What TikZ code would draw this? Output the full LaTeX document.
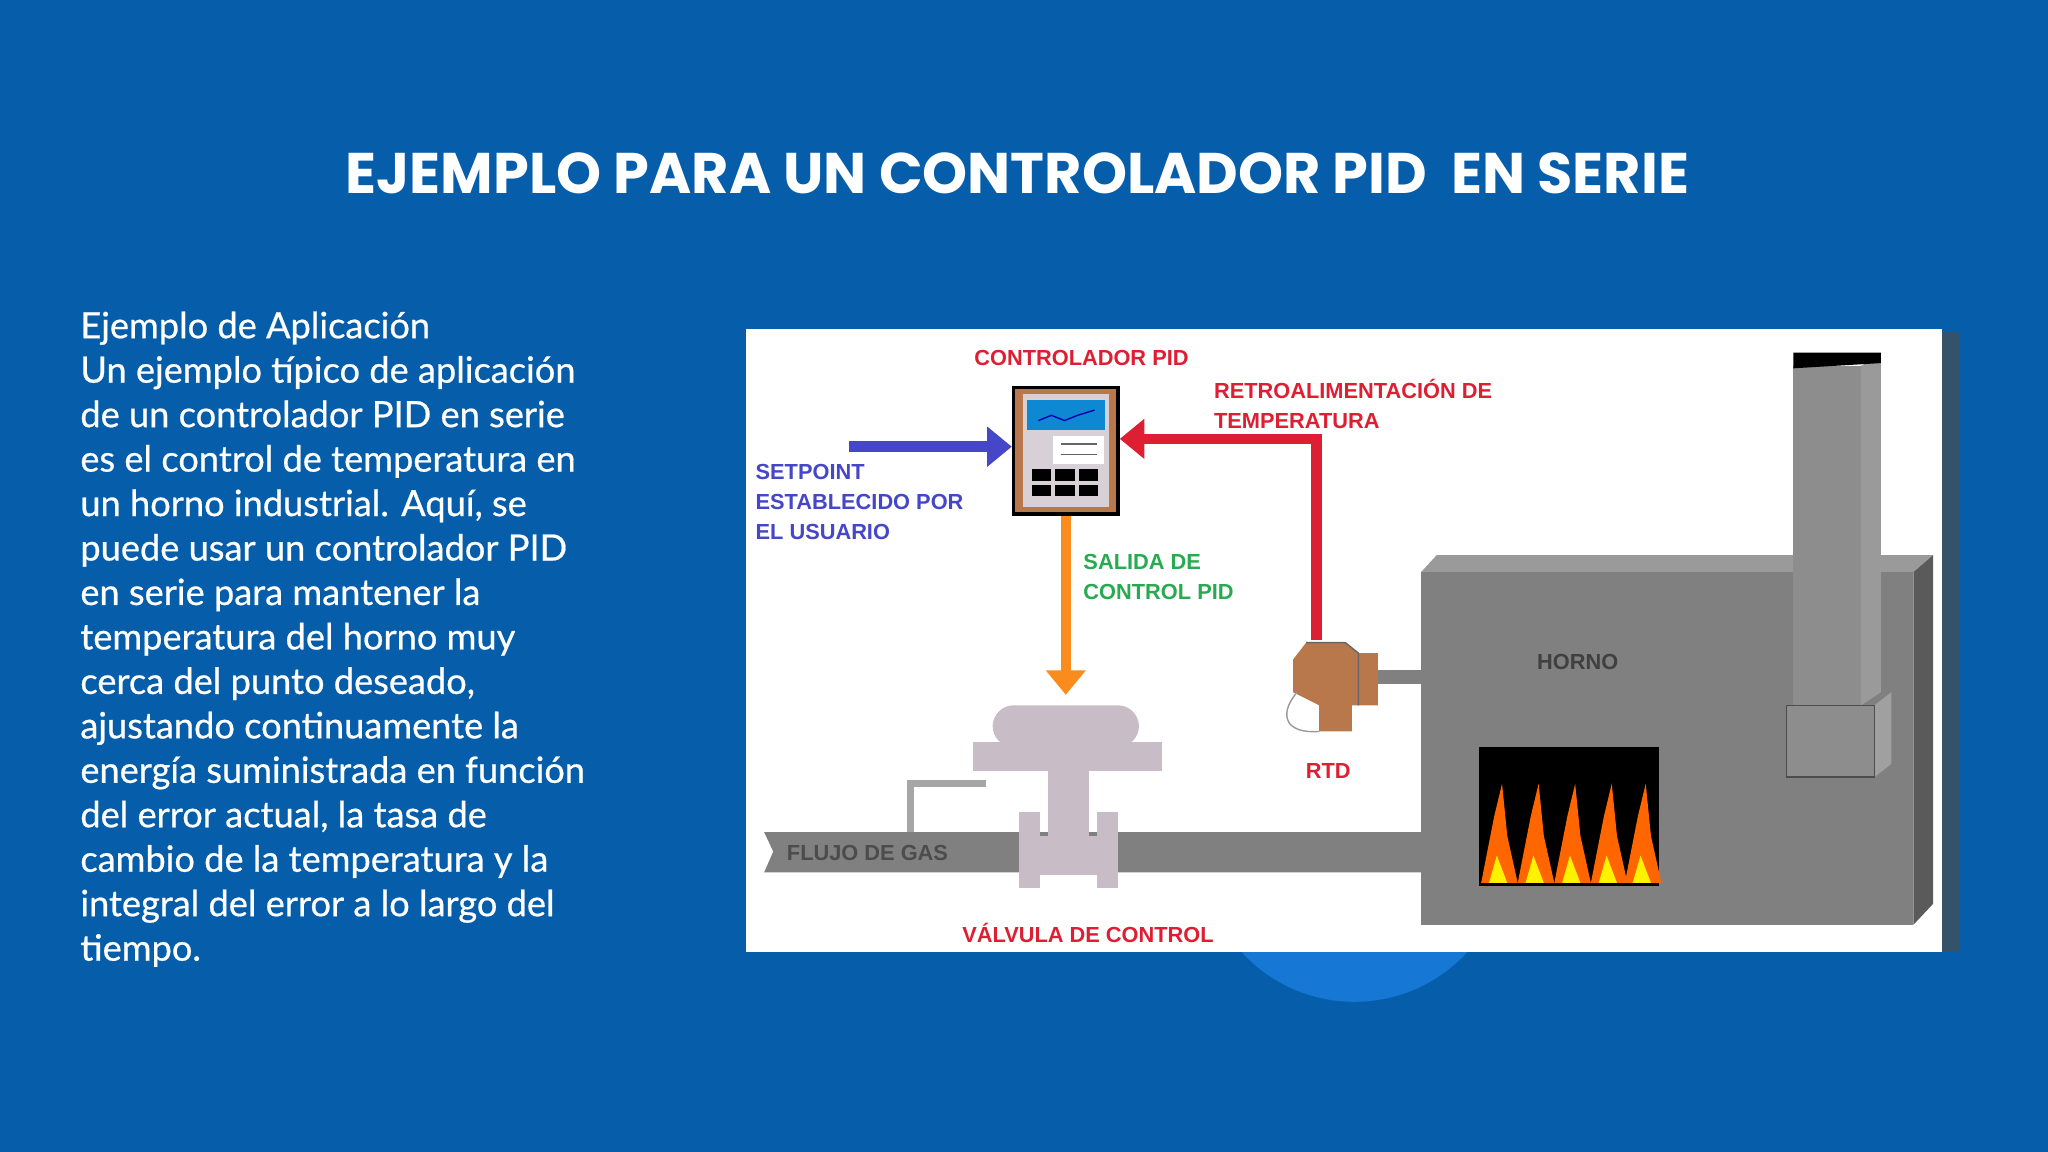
\documentclass[tikz,border=0pt]{standalone}
\usepackage{fontspec}
\setmainfont{Lato}[FakeBold=0.6]
\newfontfamily\titlefont{Poppins}
\newfontfamily\labelfont{Liberation Sans}
\usetikzlibrary{arrows.meta}
\definecolor{bgblue}{RGB}{6,94,170}
\definecolor{ringblue}{RGB}{22,120,212}
\definecolor{ctrlred}{RGB}{222,30,50}
\definecolor{spblue}{RGB}{70,70,200}
\definecolor{outorange}{RGB}{250,140,30}
\definecolor{outgreen}{RGB}{40,170,80}
\definecolor{oven}{RGB}{128,128,128}
\definecolor{copper}{RGB}{185,120,75}
\definecolor{valvegray}{RGB}{200,188,198}
\tikzset{
  lbl/.style={font=\labelfont\bfseries\fontsize{6.2}{7.5}\selectfont,align=left,inner sep=0pt},
  flow/.style={line width=3pt,-{Triangle[length=7pt,width=11pt]}},
}
\begin{document}
\begin{tikzpicture}[x=0.013061cm,y=-0.013061cm]
    \fill[bgblue] (0,0) rectangle (1568,882);
    \useasboundingbox (0,0) rectangle (1568,882);
    \fill[ringblue] (1037,650) circle (117);
    \node[font=\titlefont\bfseries\fontsize{16.3}{18}\selectfont,text=white] (title) at (779,133) {EJEMPLO PARA UN CONTROLADOR PID \ EN SERIE};
    \node[font=\fontsize{10.3}{12.65}\selectfont,text=white,anchor=north west,align=left,inner sep=0pt] (body) at (61,238) {Ejemplo de Aplicación\\Un ejemplo típico de aplicación\\de un controlador PID en serie\\es el control de temperatura en\\un horno industrial. Aquí, se\\puede usar un controlador PID\\en serie para mantener la\\temperatura del horno muy\\cerca del punto deseado,\\ajustando continuamente la\\energía suministrada en función\\del error actual, la tasa de\\cambio de la temperatura y la\\integral del error a lo largo del\\tiempo.};
    % panel
    \fill[black!45!bgblue!60!gray] (1487,254) rectangle (1500,729);
    \fill[white] (571,252) rectangle (1487,729);
    % furnace
    \fill[oven!80] (1088,438) -- (1100,425) -- (1480,425) -- (1465,438) -- cycle;
    \fill[oven!70!black] (1465,438) -- (1480,425) -- (1480,692) -- (1465,708) -- cycle;
    \fill[oven] (1088,438) rectangle (1465,708);
    \fill[oven!80] (1425,280) -- (1440,272) -- (1440,530) -- (1425,540) -- cycle;
    \fill[oven!90] (1373,280) rectangle (1425,540);
    \fill[black] (1373,270) -- (1440,270) -- (1440,278) -- (1373,282) -- cycle;
    \fill[oven!90] (1368,540) rectangle (1435,595);
    \fill[oven!75] (1435,540) -- (1448,530) -- (1448,585) -- (1435,595) -- cycle;
    \draw[oven!60!black] (1368,540) rectangle (1435,595);
    \node[lbl,text=black!75] (horno) at (1208,507) {HORNO};
    \fill[black] (1132,572) rectangle (1270,678);
    \foreach \x in {1140,1168,1196,1224,1250} {
      \fill[orange!80!red] (\x-6,676) -- (\x+4,625) -- (\x+10,600) -- (\x+14,640) -- (\x+22,676) -- cycle;
      \fill[yellow] (\x,676) -- (\x+6,655) -- (\x+14,676) -- cycle;
    }
    % pipe
    \fill[oven] (585,637) -- (1090,637) -- (1090,668) -- (585,668) -- (592,652) -- cycle;
    \node[lbl,text=black!70,anchor=west] (gas) at (602,653) {FLUJO DE GAS};
    \fill[oven] (1055,513) rectangle (1090,524);
    % valve
    \draw[black!35,line width=2pt] (755,600) -- (697,600) -- (697,637);
    \fill[valvegray] (780,622) rectangle (796,680);
    \fill[valvegray] (840,622) rectangle (856,680);
    \fill[valvegray] (796,640) rectangle (840,670);
    \fill[valvegray] (802,588) rectangle (834,640);
    \fill[valvegray,rounded corners=6pt] (760,540) rectangle (872,572);
    \fill[valvegray] (745,568) rectangle (890,590);
    \node[lbl,text=ctrlred] (valvula) at (833,714) {VÁLVULA DE CONTROL};
    % RTD
    \fill[copper] (1000,492) -- (1030,492) -- (1040,500) -- (1055,500) -- (1055,540) -- (1035,540) -- (1035,560) -- (1010,560) -- (1010,540) -- (990,530) -- (990,505) -- cycle;
    \draw[black!60] (1000,492) -- (1030,492) -- (1040,500) -- (1040,540);
    \draw[black!40] (993,530) .. controls (978,548) and (985,562) .. (1010,560);
    \node[lbl,text=ctrlred] (rtd) at (1017,590) {RTD};
    % controller
    \node[draw=black,line width=1pt,fill=copper,minimum width=80*0.13061mm,minimum height=97*0.13061mm,inner sep=0pt] (pid) at (816,345) {};
    \fill[valvegray!70] (783,302) rectangle (849,388);
    \fill[cyan!70!blue] (786,306) rectangle (846,329);
    \draw[blue!70!black] (795,322) -- (805,318) -- (815,322) -- (825,318) -- (838,314);
    \fill[white] (806,334) rectangle (845,355);
    \draw[black!60] (812,340) -- (840,340) (812,348) -- (840,348);
    \foreach \i in {0,1,2} {
      \fill[black] (790+\i*18,359) rectangle (805+\i*18,368);
      \fill[black] (790+\i*18,371) rectangle (805+\i*18,380);
    }
    \node[lbl,text=ctrlred] (pidlbl) at (828,274) {CONTROLADOR PID};
    \coordinate (sp) at (650,342);
    \coordinate (rtdtop) at (1008,490);
    \coordinate (bend) at (1008,336);
    \coordinate (valvetop) at (816,532);
    \draw[flow,spblue] (sp) -- (pid.west |- sp);
    \draw[flow,ctrlred] (rtdtop) -- (bend) -- (pid.east |- bend);
    \draw[flow,outorange] (pid.south) -- (valvetop);
    \node[lbl,text=spblue,anchor=north west] (setpoint) at (578,355) {SETPOINT\\[1pt]ESTABLECIDO POR\\[1pt]EL USUARIO};
    \node[lbl,text=ctrlred,anchor=north west] (retro) at (929,290) {RETROALIMENTACIÓN DE\\[1pt]TEMPERATURA};
    \node[lbl,text=outgreen,anchor=north west] (salida) at (829,424) {SALIDA DE\\[1pt]CONTROL PID};
\end{tikzpicture}
\end{document}
